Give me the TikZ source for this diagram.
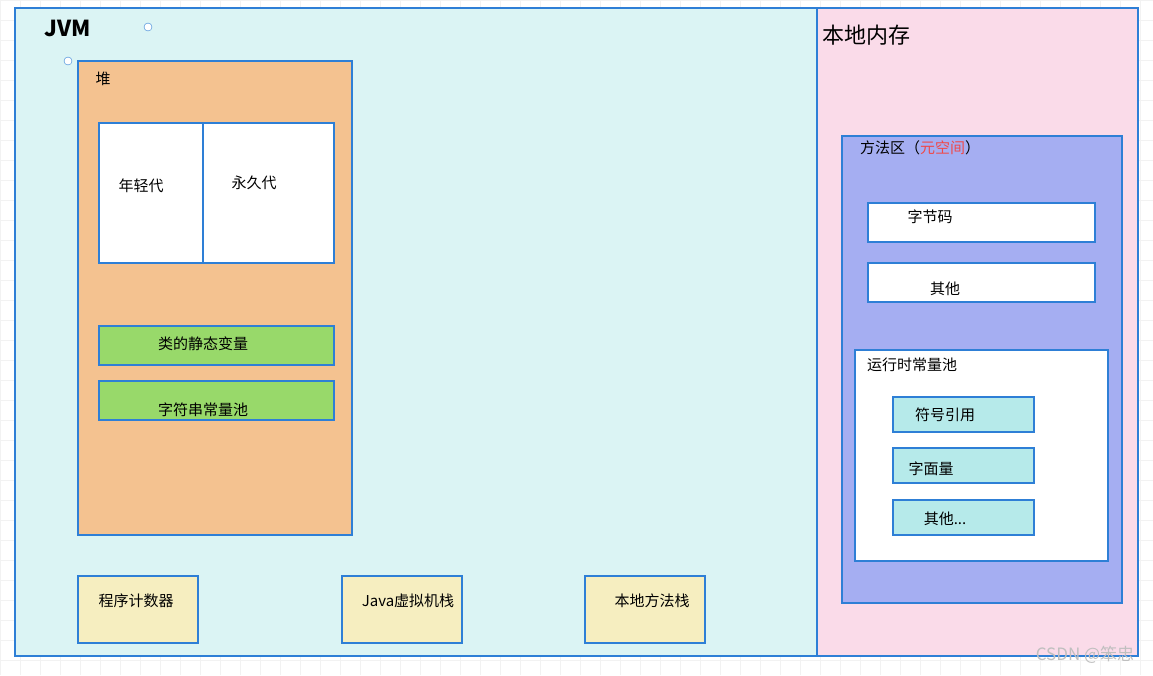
\documentclass[tikz,border=0pt]{standalone}
\usepackage{fontspec}
\setmainfont{Noto Sans CJK SC}
\definecolor{edge}{HTML}{2E7FD6}
\definecolor{jvmbg}{HTML}{DBF4F4}
\definecolor{memb}{HTML}{FADBE9}
\definecolor{heap}{HTML}{F4C290}
\definecolor{grn}{HTML}{98D96A}
\definecolor{yel}{HTML}{F6EEC0}
\definecolor{meth}{HTML}{A5AEF2}
\definecolor{cyn}{HTML}{B6EAEA}
\definecolor{redt}{HTML}{F04848}
\begin{document}
\begin{tikzpicture}[x=1pt,y=-1pt,
 bx/.style={draw=edge,line width=1.2pt},
 lbl/.style={font=\fontsize{15}{18}\selectfont,inner sep=0pt}]
\useasboundingbox (0,0) rectangle (1153,675);
\fill[white] (0,0) rectangle (1153,675);
\draw[black!5,line width=0.6pt] (0,0) grid[step=20pt] (1153,675);
\draw[bx,fill=jvmbg] (15,8) rectangle (817,656);
\draw[bx,fill=memb] (817,8) rectangle (1138,656);
\node[font=\fontsize{22}{26}\selectfont\bfseries,inner sep=0pt] (jvm) at (68,28) {JVM};
\node[draw=edge,fill=white,circle,minimum size=8pt,inner sep=0pt] (c1) at (148,27) {};
\node[draw=edge,fill=white,circle,minimum size=8pt,inner sep=0pt] (c2) at (68,61) {};
\draw[bx,fill=heap] (78,61) rectangle (352,535);
\node[lbl] (dui) at (103,79) {堆};
\draw[bx,fill=white] (99,123) rectangle (203,263);
\draw[bx,fill=white] (203,123) rectangle (334,263);
\node[lbl] (ynd) at (141,186) {年轻代};
\node[lbl] (yjd) at (254,183) {永久代};
\draw[bx,fill=grn] (99,326) rectangle (334,365);
\node[lbl] (lei) at (203,344) {类的静态变量};
\draw[bx,fill=grn] (99,381) rectangle (334,420);
\node[lbl] (zfc) at (203,410) {字符串常量池};
\foreach \x/\t/\n/\tx in {78/程序计数器/pc/136,342/Java虚拟机栈/vs/408,585/本地方法栈/ns/652}{
 \draw[bx,fill=yel] (\x,576) rectangle (\x+120,643);
 \node[lbl] (\n) at (\tx,601) {\t};}
\node[font=\fontsize{22}{26}\selectfont,inner sep=0pt] (bdnc) at (866,35) {本地内存};
\draw[bx,fill=meth] (842,136) rectangle (1122,603);
\node[lbl] (ffq) at (920,148) {方法区（\textcolor{redt}{元空间}）};
\draw[bx,fill=white] (868,203) rectangle (1095,242);
\node[lbl] (zjm) at (930,217) {字节码};
\draw[bx,fill=white] (868,263) rectangle (1095,302);
\node[lbl] (qt) at (945,289) {其他};
\draw[bx,fill=white] (855,350) rectangle (1108,561);
\node[lbl] (yxs) at (912,365) {运行时常量池};
\draw[bx,fill=cyn] (893,397) rectangle (1034,432);
\node[lbl] (fh) at (945,415) {符号引用};
\draw[bx,fill=cyn] (893,448) rectangle (1034,483);
\node[lbl] (zml) at (931,469) {字面量};
\draw[bx,fill=cyn] (893,500) rectangle (1034,535);
\node[lbl] (qt2) at (945,519) {其他...};
\node[font=\fontsize{17}{20}\selectfont,text=black!25,inner sep=0pt] (wm) at (1085,655) {CSDN @笨忠};
\end{tikzpicture}
\end{document}
